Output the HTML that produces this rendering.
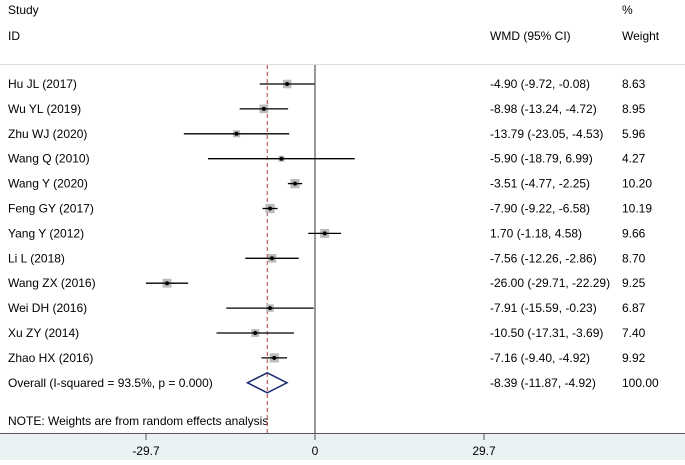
<!DOCTYPE html>
<html><head><meta charset="utf-8"><style>
body{margin:0;background:#fff;font-family:"Liberation Sans",Arial,sans-serif}
svg text{font-family:"Liberation Sans",Arial,sans-serif;font-size:12px;fill:#000}
</style></head><body>
<svg id="c" width="685" height="460">
<rect x="0" y="434" width="685" height="26" fill="#eaf2f3"/>
<line x1="0" y1="64.5" x2="685" y2="64.5" stroke="#ddd"/>
<text x="8" y="14">Study</text>
<text x="8" y="40">ID</text>
<text x="490" y="40">WMD (95% CI)</text>
<text x="622" y="14">%</text>
<text x="622" y="40">Weight</text>
<text x="8" y="425">NOTE: Weights are from random effects analysis</text>
<g id="g"></g>
</svg>
<script>
const studies=["Hu JL (2017)","Wu YL (2019)","Zhu WJ (2020)","Wang Q (2010)","Wang Y (2020)","Feng GY (2017)","Yang Y (2012)","Li L (2018)","Wang ZX (2016)","Wei DH (2016)","Xu ZY (2014)","Zhao HX (2016)"];
const est=[-4.90,-8.98,-13.79,-5.90,-3.51,-7.90,1.70,-7.56,-26.00,-7.91,-10.50,-7.16];
const lo=[-9.72,-13.24,-23.05,-18.79,-4.77,-9.22,-1.18,-12.26,-29.71,-15.59,-17.31,-9.40];
const hi=[-0.08,-4.72,-4.53,6.99,-2.25,-6.58,4.58,-2.86,-22.29,-0.23,-3.69,-4.92];
const weights=[8.63,8.95,5.96,4.27,10.20,10.19,9.66,8.70,9.25,6.87,7.40,9.92];
const overall=[-8.39,-11.87,-4.92];
const ticks=[-29.7,0,29.7];
const X=v=>315+v*169/29.7;
const Y=i=>84+i*24.9;
const g=document.getElementById('g');const NS="http://www.w3.org/2000/svg";
function mk(t,a,txt){const e=document.createElementNS(NS,t);for(const k in a)e.setAttribute(k,a[k]);if(txt!=null)e.textContent=txt;g.appendChild(e);return e;}
let e;
e=mk('line',{x1:X(0),y1:65,x2:X(0),y2:434,stroke:'#555','stroke-width':1.2});

e=mk('line',{x1:X(overall[0]),y1:65,x2:X(overall[0]),y2:434,stroke:'#b04040','stroke-dasharray':'4,3'});

const f=v=>v.toFixed(2);
studies.forEach((s,i)=>{const y=Y(i);
 e=mk('text',{x:8,y:y+4},s);
 const sz=Math.sqrt(weights[i])*2.9;
 e=mk('rect',{x:X(est[i])-sz/2,y:y-sz/2,width:sz,height:sz,fill:'#bbb'});
 e=mk('line',{x1:X(lo[i]),y1:y,x2:X(hi[i]),y2:y,stroke:'#000','stroke-width':1.3});
 e=mk('circle',{cx:X(est[i]),cy:y,r:2,fill:'#000'});
 e=mk('text',{x:490,y:y+4},`${f(est[i])} (${f(lo[i])}, ${f(hi[i])})`);
 e=mk('text',{x:622,y:y+4},f(weights[i]));
});
const oy=Y(12);
e=mk('text',{x:8,y:oy+4},'Overall  (I-squared = 93.5%, p = 0.000)');
e=mk('polygon',{points:`${X(overall[1])},${oy} ${X(overall[0])},${oy-10} ${X(overall[2])},${oy} ${X(overall[0])},${oy+10}`,fill:'none',stroke:'#1a2a6c','stroke-width':1.5});

e=mk('text',{x:490,y:oy+4},`${f(overall[0])} (${f(overall[1])}, ${f(overall[2])})`);
e=mk('text',{x:622,y:oy+4},'100.00');
e=mk('line',{x1:0,y1:433.5,x2:685,y2:433.5,stroke:'#555'});
ticks.forEach(t=>{
 e=mk('line',{x1:X(t),y1:434,x2:X(t),y2:440,stroke:'#555'});
 e=mk('text',{x:X(t),y:455,'text-anchor':'middle'},String(t));
});
</script>
</body></html>
